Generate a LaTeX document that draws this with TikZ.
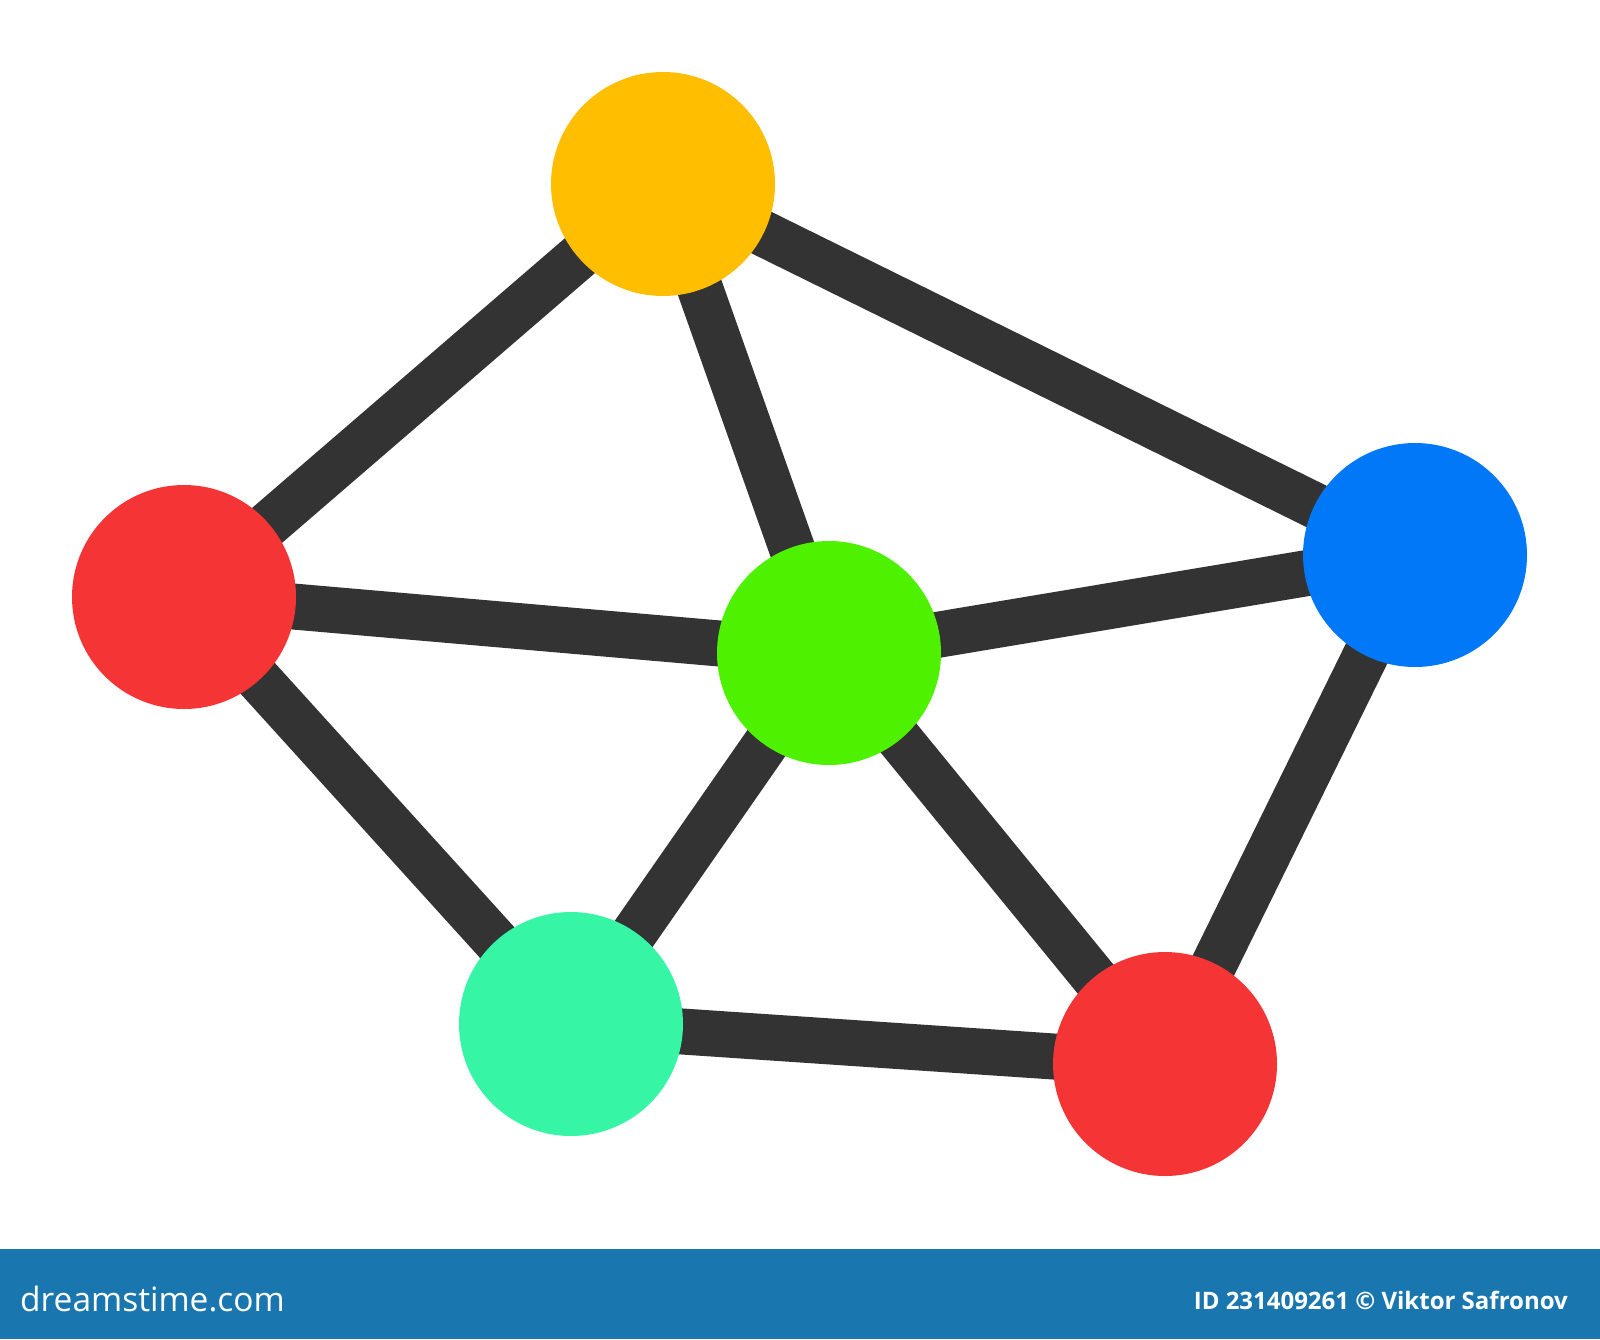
\documentclass[tikz,border=0pt]{standalone}
\usepackage{fontspec}
\setmainfont{Open Sans}
\definecolor{edgec}{HTML}{333333}
\definecolor{cyel}{HTML}{FFBE00}
\definecolor{cred}{HTML}{F53535}
\definecolor{cgrn}{HTML}{4EF200}
\definecolor{cblu}{HTML}{0078F8}
\definecolor{cteal}{HTML}{36F6A6}
\definecolor{banner}{HTML}{1A76AE}
\begin{document}
\begin{tikzpicture}[x=1pt,y=-1pt,
  dot/.style={circle,minimum size=224pt,inner sep=0pt,draw=none},
  link/.style={draw=edgec,line width=46pt}]
\useasboundingbox (0,0) rectangle (1600,1339);
\fill[white] (0,0) rectangle (1600,1339);
\coordinate (y) at (663,184);
\coordinate (rl) at (184,597);
\coordinate (g) at (829,653);
\coordinate (b) at (1415,555);
\coordinate (t) at (571,1024);
\coordinate (rr) at (1165,1064);
\draw[link] (y) -- (rl);
\draw[link] (y) -- (g);
\draw[link] (y) -- (b);
\draw[link] (rl) -- (g);
\draw[link] (rl) -- (t);
\draw[link] (g) -- (b);
\draw[link] (g) -- (t);
\draw[link] (g) -- (rr);
\draw[link] (b) -- (rr);
\draw[link] (t) -- (rr);
\node[dot,fill=cyel] (ny) at (y) {};
\node[dot,fill=cred] (nrl) at (rl) {};
\node[dot,fill=cgrn] (ng) at (g) {};
\node[dot,fill=cblu] (nb) at (b) {};
\node[dot,fill=cteal] (nt) at (t) {};
\node[dot,fill=cred] (nrr) at (rr) {};
\fill[banner] (0,1249) rectangle (1600,1339);
\node[anchor=base west,text=white,font=\fontsize{33.5}{38}\selectfont,inner sep=0pt] (logo) at (20,1311) {dreamstime.com};
\node[anchor=base east,text=white,font=\fontsize{24}{28}\selectfont\bfseries,inner sep=0pt] (id) at (1568,1309) {ID 231409261 © Viktor Safronov};
\end{tikzpicture}
\end{document}
